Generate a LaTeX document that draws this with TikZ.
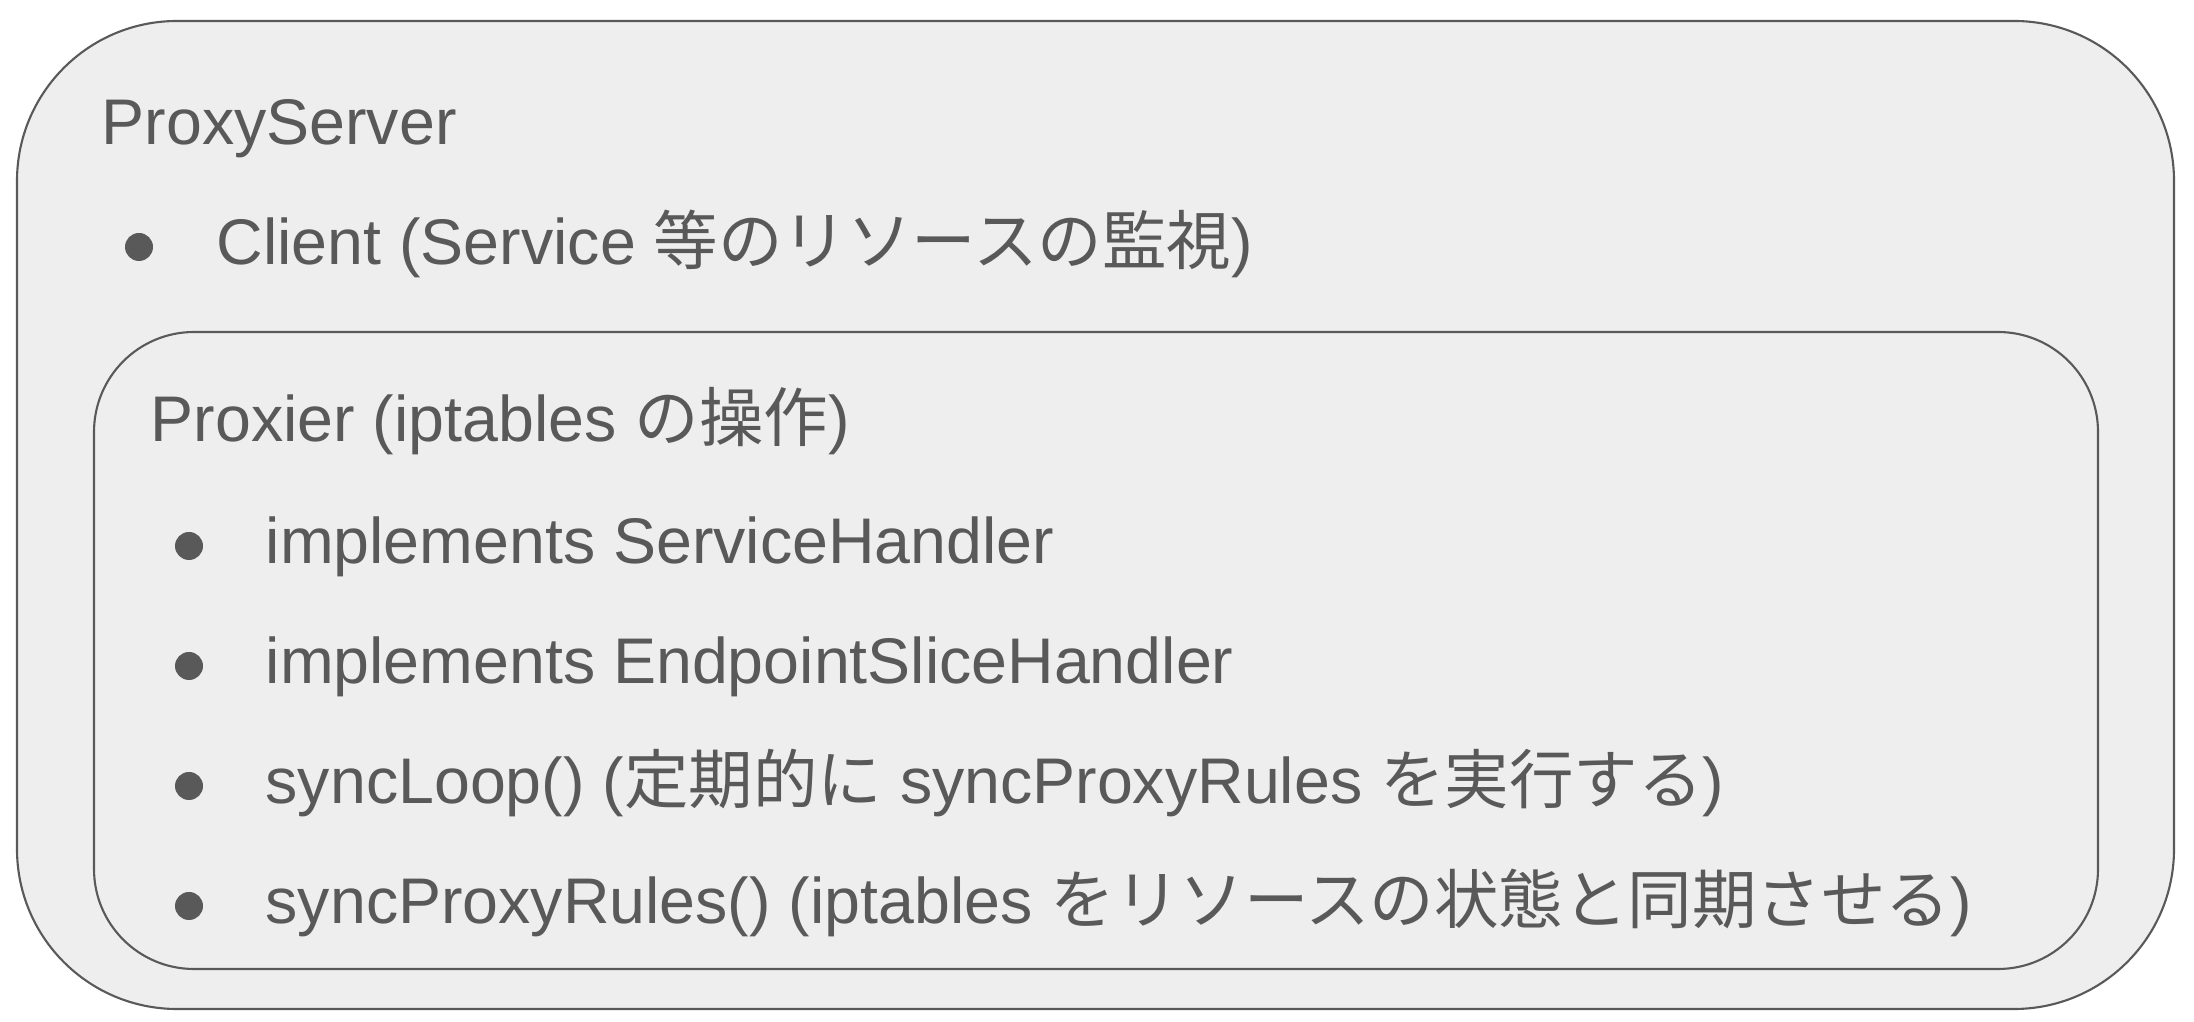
\documentclass[tikz,border=0pt]{standalone}
\usepackage{fontspec}
\setmainfont{Liberation Sans}
\newfontfamily\jp{Noto Sans CJK JP}
\definecolor{ink}{HTML}{595959}
\definecolor{panel}{HTML}{EEEEEE}
\begin{document}
\begin{tikzpicture}[
            frame/.style={draw=ink, fill=panel, line width=0.6pt},
            txt/.style={anchor=base west, inner sep=0pt, text=ink, font=\fontsize{18.35}{22}\selectfont},
            dot/.style={circle, fill=ink, inner sep=0pt, minimum size=0.28cm}
        ]
            \useasboundingbox (0,0) rectangle (21.94,10.22);
            \draw[frame, rounded corners=1.6cm] (0.17,10.01) rectangle (21.74,0.13);
            \draw[frame, rounded corners=1.0cm] (0.94,6.90) rectangle (20.98,0.53);

            \node[txt] (server) at (1.01,8.77) {ProxyServer};
            \node[dot] (b0) at (1.39,7.75) {};
            \node[txt] (client) at (2.16,7.57) {Client (Service {\jp 等のリソースの監視})};

            \node[txt] (proxier) at (1.50,5.80) {Proxier (iptables {\jp の操作})};
            \node[dot] (b1) at (1.89,4.76) {};
            \node[txt] (svc) at (2.65,4.58) {implements ServiceHandler};
            \node[dot] (b2) at (1.89,3.56) {};
            \node[txt] (eps) at (2.65,3.38) {implements EndpointSliceHandler};
            \node[dot] (b3) at (1.89,2.36) {};
            \node[txt] (loop) at (2.65,2.18) {syncLoop() ({\jp 定期的に} syncProxyRules {\jp を実行する})};
            \node[dot] (b4) at (1.89,1.16) {};
            \node[txt] (rules) at (2.65,0.98) {syncProxyRules() (iptables {\jp をリソースの状態と同期させる})};
        \end{tikzpicture}
\end{document}
